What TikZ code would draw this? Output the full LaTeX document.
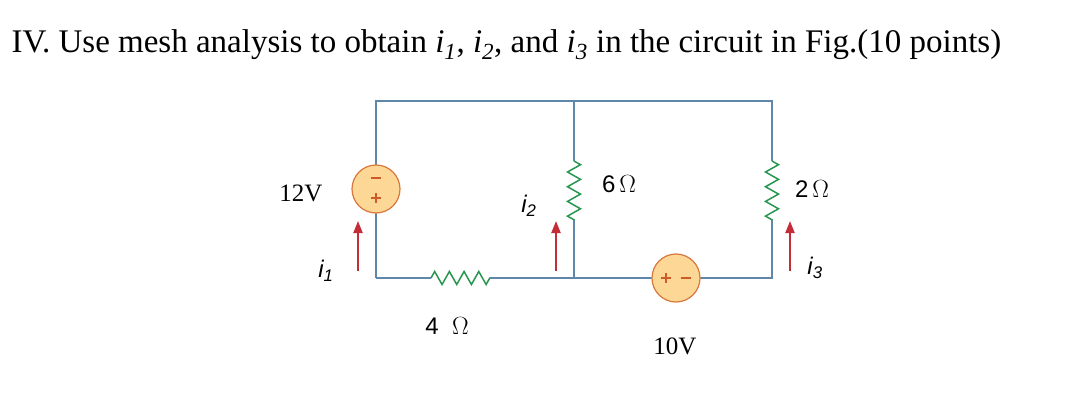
\documentclass[tikz,border=0pt]{standalone}
\usepackage{fontspec}
\setmainfont{Liberation Serif}
\newfontfamily\lsans{Liberation Sans}
\usetikzlibrary{decorations.pathmorphing,arrows.meta}
\definecolor{wire}{RGB}{95,135,170}
\definecolor{resc}{RGB}{40,150,80}
\definecolor{srcfill}{RGB}{253,215,150}
\definecolor{srcdraw}{RGB}{215,120,60}
\definecolor{sgnc}{RGB}{205,90,40}
\definecolor{arr}{RGB}{195,45,55}
\tikzset{
 w/.style={draw=wire,line width=1.8pt},
 res/.style={draw=resc,line width=1.5pt,decorate,decoration={zigzag,segment length=14.7pt,amplitude=6.5pt}},
 src/.style={circle,fill=srcfill,draw=srcdraw,line width=1.2pt,minimum size=48pt,inner sep=0pt},
 sgnline/.style={draw=sgnc,line width=1.8pt},
 cur/.style={draw=arr,line width=2.2pt,-{Triangle[length=12pt,width=9pt]}},
 lab/.style={font=\fontsize{25}{27}\selectfont},
 slab/.style={font=\lsans\fontsize{24}{26}\selectfont},
 x=1pt,y=-1pt
}
\begin{document}
\begin{tikzpicture}
\useasboundingbox (0,0) rectangle (1080,412);
\node[anchor=west,font=\fontsize{33}{36}\selectfont] (title) at (8,45) {IV. Use mesh analysis to obtain \textit{i\textsubscript{1}}, \textit{i\textsubscript{2}}, and \textit{i\textsubscript{3}} in the circuit in Fig.(10 points)};
\coordinate (TL) at (376,101); \coordinate (TM) at (574,101); \coordinate (TR) at (772,101);
\coordinate (BL) at (376,278); \coordinate (BM) at (574,278); \coordinate (BR) at (772,278);
\coordinate (r6a) at (574,161); \coordinate (r6b) at (574,220);
\coordinate (r2a) at (772,161); \coordinate (r2b) at (772,220);
\coordinate (r4a) at (431,278); \coordinate (r4b) at (490,278);
\draw[w] (BL) -- (TL) -- (TR) -- (r2a);
\draw[w] (r2b) -- (BR) -- (BM) -- (r4b);
\draw[w] (r4a) -- (BL);
\draw[w] (TM) -- (r6a); \draw[w] (r6b) -- (BM);
\draw[res] (r6a) -- (r6b);
\draw[res] (r2a) -- (r2b);
\draw[res] (r4a) -- (r4b);
\node[src] (v12) at (376,189) {};
\draw[sgnline] ([shift={(-5,-11)}]v12.center) -- ([shift={(5,-11)}]v12.center);
\draw[sgnline] ([shift={(-5,9)}]v12.center) -- ([shift={(5,9)}]v12.center);
\draw[sgnline] ([shift={(0,4)}]v12.center) -- ([shift={(0,14)}]v12.center);
\node[src] (v10) at (676,278) {};
\draw[sgnline] ([shift={(-15,0)}]v10.center) -- ([shift={(-5,0)}]v10.center);
\draw[sgnline] ([shift={(-10,-5)}]v10.center) -- ([shift={(-10,5)}]v10.center);
\draw[sgnline] ([shift={(5,0)}]v10.center) -- ([shift={(15,0)}]v10.center);
\coordinate (a1s) at (358,271); \coordinate (a1e) at (358,221);
\coordinate (a2s) at (556,271); \coordinate (a2e) at (556,221);
\coordinate (a3s) at (790,271); \coordinate (a3e) at (790,221);
\draw[cur] (a1s) -- (a1e);
\draw[cur] (a2s) -- (a2e);
\draw[cur] (a3s) -- (a3e);
\node[lab] (l12) at (301,193) {12V};
\node[lab] (l10) at (675,346) {10V};
\node[slab] (l6) at (619,184) {6\,$\Omega$};
\node[slab] (l2) at (812,189) {2\,$\Omega$};
\node[slab] (l4) at (447,326) {4 \ $\Omega$};
\node[slab] (li1) at (326,271) {\textit{i\textsubscript{1}}};
\node[slab] (li2) at (529,206) {\textit{i\textsubscript{2}}};
\node[slab] (li3) at (815,268) {\textit{i\textsubscript{3}}};
\end{tikzpicture}
\end{document}
